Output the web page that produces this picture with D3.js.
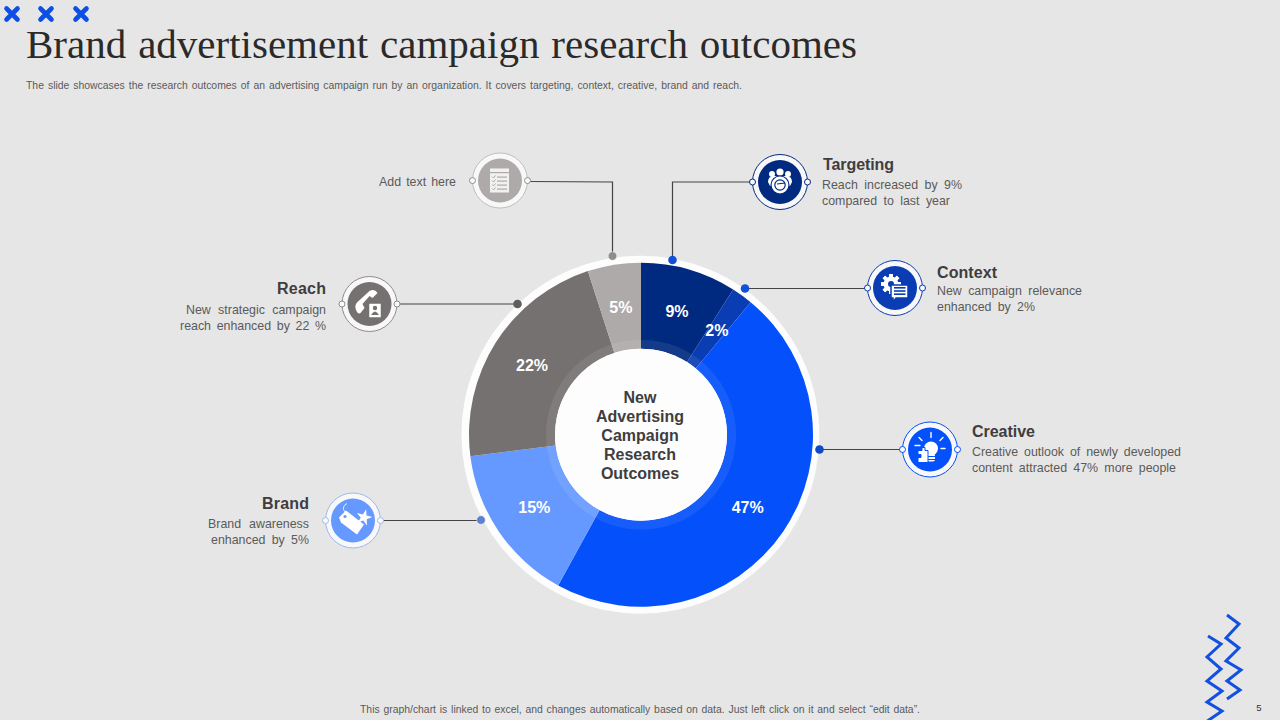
<!DOCTYPE html>
<html><head><meta charset="utf-8">
<script src="https://cdn.jsdelivr.net/npm/d3@7"></script>
<style>html,body{margin:0;padding:0;background:#e7e6e6;overflow:hidden}svg{display:block}text{font-family:"Liberation Sans",Arial,sans-serif}</style>
</head><body><svg id="c" width="1280" height="720"></svg>
<script>
const categories = ["Targeting","Context","Creative","Brand","Reach","Add text here"];
const shares = [9,2,47,15,22,5];
const sliceColors = ["#002a80","#0a3cb4","#0450fb","#6699ff","#767171","#aeaaaa"];
const centerLines = ["New","Advertising","Campaign","Research","Outcomes"];
const titleText = "Brand advertisement campaign research outcomes";
const subtitleText = "The slide showcases the research outcomes of an advertising campaign run by an organization. It covers targeting, context, creative, brand and reach.";
const footerText = "This graph/chart is linked to excel, and changes automatically based on data. Just left click on it and select “edit data”.";

const svg = d3.select("#c");
const ink = "#403d3d", body = "#5a5a5a";
const cx = 641, cy = 434.7;

// text fitted to a measured width by stretching the gaps between words
function fitted(sel, x, y, len, size, txt, anchor, fill, weight, family){
  const t = sel.append("text").attr("x",x).attr("y",y).attr("font-size",size).attr("fill",fill)
    .attr("text-anchor",anchor||"start").attr("font-weight",weight||"normal").text(txt);
  if(family) t.style("font-family",family);
  if(len){
    const gaps = txt.split(" ").length-1;
    const extra = len - t.node().getComputedTextLength();
    if(gaps>0) t.attr("word-spacing",extra/gaps);
    else t.attr("textLength",len).attr("lengthAdjust","spacing");
  }
  return t;
}
fitted(svg,26,58,831,41,titleText,"start","#2a2a2a","normal",'"Liberation Serif",serif');
fitted(svg,26,89,716,10.4,subtitleText,"start","#5a5a5a");
fitted(svg,360,713,560,10.4,footerText,"start","#5a5a5a");
fitted(svg,1259,711,null,9.5,"5","middle","#333");

[12,46,81].forEach(x=>{
  svg.append("path").attr("d",`M${x-5.5},8.5L${x+5.5},19.5M${x+5.5},8.5L${x-5.5},19.5`)
    .attr("stroke","#0d4fe6").attr("stroke-width",4.6).attr("stroke-linecap","round").attr("fill","none");
});
const zig = d3.line();
[[[1227,615],[1239,624],[1226,638],[1239,648],[1226,661],[1241,670],[1227,681],[1240,690],[1227,699]],
 [[1208,636],[1221,644],[1207,657],[1221,669],[1207,681],[1222,691],[1207,702],[1222,711],[1206,722]]]
 .forEach(p=>svg.append("path").attr("d",zig(p)).attr("fill","none").attr("stroke","#1150e0").attr("stroke-width",3));

// donut
const g = svg.append("g").attr("transform",`translate(${cx},${cy})`);
g.append("circle").attr("cx",-0.6).attr("r",179).attr("fill","#fdfdfd");
const pie = d3.pie().sort(null).value(d=>d)(shares);
const arc = d3.arc().innerRadius(86).outerRadius(172);
g.selectAll("path.s").data(pie).join("path").attr("class","s").attr("d",arc)
  .attr("fill",(d,i)=>sliceColors[i]);
g.append("circle").attr("r",90.5).attr("fill","none").attr("stroke","#fff").attr("stroke-opacity",.08).attr("stroke-width",9);
g.append("circle").attr("r",86).attr("fill","#fdfdfd");
const labelArc = d3.arc().innerRadius(129).outerRadius(129);
g.selectAll("text.v").data(pie).join("text").attr("class","v")
  .attr("transform",d=>{const p=labelArc.centroid(d);return `translate(${p[0]},${p[1]})`;}).attr("text-anchor","middle").attr("dy","0.36em")
  .attr("font-size",16).attr("font-weight","bold").attr("fill","#fff").text(d=>d.data+"%");
g.selectAll("text.c").data(centerLines).join("text").attr("class","c")
  .attr("x",-1).attr("y",(d,i)=>-37.4+19*i).attr("dy","0.36em").attr("text-anchor","middle")
  .attr("font-size",16).attr("font-weight","bold").attr("fill",ink).text(d=>d);

// icons
const W="#fff";
const icons = {
  "Targeting"(n){
    [[-8,-8,3],[0,-10,3.6],[8,-8,3]].forEach(p=>n.append("circle").attr("cx",p[0]).attr("cy",p[1]).attr("r",p[2]).attr("fill",W));
    n.append("path").attr("d","M-12,0Q-12,-6 -6,-6L6,-6Q12,-6 12,0L10,4L-10,4Z").attr("fill",W);
    n.append("circle").attr("cy",3).attr("r",9).attr("fill",W).attr("stroke",sliceColors[0]).attr("stroke-width",1.2);
    n.append("circle").attr("cy",3).attr("r",5.2).attr("fill","none").attr("stroke",sliceColors[0]).attr("stroke-width",1.2);
    n.append("path").attr("d","M-3,2L5,1M-3,11L-6,15").attr("stroke",sliceColors[0]).attr("stroke-width",1.2);
  },
  "Context"(n){
    const gear=n.append("g").attr("transform","translate(-4,-4)");
    d3.range(8).forEach(i=>gear.append("rect").attr("x",-1.8).attr("y",-10).attr("width",3.6).attr("height",20).attr("fill",W).attr("transform",`rotate(${i*45/1})`));
    gear.append("circle").attr("r",7.5).attr("fill",W);
    gear.append("circle").attr("r",3).attr("fill",sliceColors[1]);
    n.append("path").attr("d","M-4,-3H13V10H1L-2,14V10H-4Z").attr("fill",W).attr("stroke",sliceColors[1]).attr("stroke-width",1.5);
    [0,3.2,6.4].forEach(y=>n.append("rect").attr("x",-1).attr("y",y-1).attr("width",11.5).attr("height",1.6).attr("fill",sliceColors[1]));
  },
  "Creative"(n){
    n.append("circle").attr("cx",1).attr("cy",-1).attr("r",7).attr("fill",W);
    n.append("rect").attr("x",-3).attr("y",4).attr("width",8).attr("height",8).attr("rx",2).attr("fill",W);
    n.append("path").attr("d","M1,-17V-12M-11,-12L-8,-9M13,-12L10,-9M15,-1H11M-15,-4H-10").attr("stroke",W).attr("stroke-width",1.4).attr("stroke-linecap","round");
    n.append("path").attr("d","M-12,1H-8V-2H-5V1H-2V5H-2V13H-12V8H-9V5H-12Z").attr("fill",W).attr("stroke",sliceColors[2]).attr("stroke-width",1);
    n.append("path").attr("d","M-2,7H6M-2,10H6").attr("stroke",sliceColors[2]).attr("stroke-width",1);
  },
  "Brand"(n){
    n.append("path").attr("d","M-8,-8Q-12,-14 -6,-17").attr("fill","none").attr("stroke",W).attr("stroke-width",.8);
    n.append("path").attr("d","M-14,-3L-7,-10L11,4L4,14L-12,2Z").attr("fill",W);
    n.append("circle").attr("cx",-8).attr("cy",-4).attr("r",1.6).attr("fill",sliceColors[3]);
    n.append("path").attr("d",d3.symbol().type(d3.symbolStar).size(80)()).attr("transform","translate(11,-3) rotate(15)").attr("fill",W);
  },
  "Reach"(n){
    n.append("path").attr("d","M-13,7C-15,3 -14,0 -12,-2L0,-13C3,-15 6,-14 8,-11L3,-6L0,-8L-7,0L-5,4L-9,9C-11,10 -12,9 -13,7Z").attr("fill",W);
    n.append("rect").attr("x",-1).attr("y",-1).attr("width",13).attr("height",15).attr("fill",W).attr("stroke",sliceColors[4]).attr("stroke-width",1.5);
    n.append("circle").attr("cx",5.5).attr("cy",4).attr("r",2.2).attr("fill",sliceColors[4]);
    n.append("path").attr("d","M1.5,11Q5.5,4 9.5,11Z").attr("fill",sliceColors[4]);
  },
  "Add text here"(n){
    n.append("rect").attr("x",-10).attr("y",-12).attr("width",19).attr("height",24).attr("fill","#f2f1f1");
    n.append("rect").attr("x",-10).attr("y",-8.5).attr("width",19).attr("height",1.2).attr("fill",sliceColors[5]);
    [-4,0,4,8].forEach(y=>{
      n.append("rect").attr("x",-3).attr("y",y).attr("width",10).attr("height",1.2).attr("fill",sliceColors[5]);
      n.append("path").attr("d",`M-8,${y}l1.5,1.5l2,-2.5`).attr("fill","none").attr("stroke",sliceColors[5]).attr("stroke-width",1);
    });
  }
};

// callouts: geometry belongs to the slide layout, keyed by category
const layout = {
  "Targeting":{c:[780,182],dot:[672.5,260],route:[[752.5,182],[672.5,182],[672.5,260]],dotFill:"#1150d8",
    head:{x:823,y:170,len:71,a:"start"},lines:[{t:"Reach increased by 9%",x:822,y:189,len:140},{t:"compared to last year",x:822,y:205,len:128}]},
  "Context":{c:[895,288],dot:[745,288.5],route:[[867,288.5],[745,288.5]],dotFill:"#1150d8",
    head:{x:937,y:278,len:60,a:"start"},lines:[{t:"New campaign relevance",x:937,y:295,len:145},{t:"enhanced by 2%",x:937,y:311,len:98}]},
  "Creative":{c:[930,449.5],dot:[819.5,449.5],route:[[902,449.5],[819.5,449.5]],dotFill:"#1148c8",
    head:{x:972,y:437,len:63,a:"start"},lines:[{t:"Creative outlook of newly developed",x:972,y:456,len:209},{t:"content attracted 47% more people",x:972,y:472,len:204}]},
  "Brand":{c:[353,520.5],dot:[481,520],route:[[381,520.5],[481,520.5]],dotFill:"#5f7fd0",
    head:{x:309,y:509,len:47,a:"end"},lines:[{t:"Brand awareness",x:309,y:528,len:101,a:"end"},{t:"enhanced by 5%",x:309,y:544,len:98,a:"end"}]},
  "Reach":{c:[369.5,304],dot:[517.5,304],route:[[397,304],[517.5,304]],dotFill:"#5f5c5c",
    head:{x:326,y:294,len:49,a:"end"},lines:[{t:"New strategic campaign",x:326,y:314,len:140,a:"end"},{t:"reach enhanced by 22 %",x:326,y:330,len:146,a:"end"}]},
  "Add text here":{c:[500,180.5],dot:[612.5,256],route:[[527,181.5],[612.5,182],[612.5,256]],dotFill:"#8f8c8c",
    head:null,lines:[{t:"Add text here",x:456,y:186,len:77,a:"end"}]}
};
const rLine = d3.line();
categories.forEach((cat,i)=>{
  const L = layout[cat], col = sliceColors[i], ring = i===5||i===4 ? "#8f8c8c" : (i===3?"#9db8f0":col);
  svg.append("path").attr("d",rLine(L.route)).attr("fill","none").attr("stroke","#444").attr("stroke-width",1.2);
  svg.append("circle").attr("cx",L.dot[0]).attr("cy",L.dot[1]).attr("r",4.3).attr("fill",L.dotFill).attr("stroke","#fff").attr("stroke-opacity",i===5||i===3?.6:0).attr("stroke-width",.8);
  const n = svg.append("g").attr("transform",`translate(${L.c})`);
  n.append("circle").attr("r",27.5).attr("fill","#f8f8f8").attr("stroke",ring).attr("stroke-width",i===5?.5:1);
  n.append("circle").attr("r",22).attr("fill",col);
  [-27.5,27.5].forEach(x=>n.append("circle").attr("cx",x).attr("r",3).attr("fill","#fbfbfb").attr("stroke",ring).attr("stroke-width",1));
  icons[cat](n.append("g"));
  if(L.head) fitted(svg,L.head.x,L.head.y,L.head.len,16,cat,L.head.a,ink,"bold");
  L.lines.forEach(l=>fitted(svg,l.x,l.y,l.len,12.4,l.t,l.a||"start",body));
});
</script></body></html>
